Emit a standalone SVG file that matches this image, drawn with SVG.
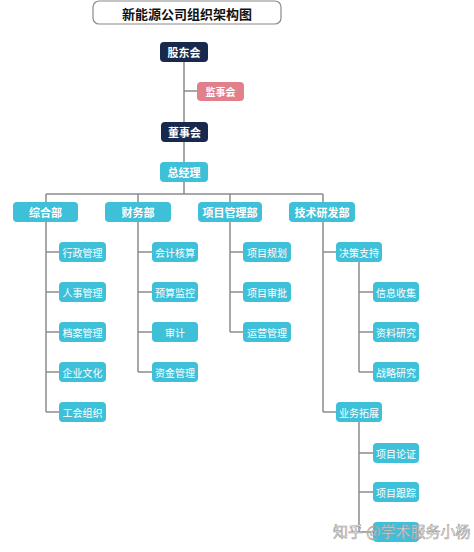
<svg xmlns="http://www.w3.org/2000/svg" width="474" height="552" viewBox="0 0 474 552">
<style>
.t{font-family:"Noto Sans CJK SC","Noto Sans",sans-serif;fill:#fff;text-anchor:middle;dominant-baseline:central}
.c rect{fill:#3fc0d9}
.leaf text{font-size:10px}
.dept text{font-size:11px;font-weight:bold}
.top rect{fill:#172a4d}
.top text{font-size:11px;font-weight:bold}
.ln{stroke:#8c8c8c;stroke-width:1.5;fill:none}
</style>
<rect width="474" height="552" fill="#fff"/>
<g id="title">
<rect x="93" y="1" width="188" height="23" rx="6" fill="#fff" stroke="#8a8a8a" stroke-width="1.2"/>
<text x="187" y="13" font-family="'Noto Sans CJK SC',sans-serif" font-size="13" font-weight="bold" fill="#111" text-anchor="middle" dominant-baseline="central">新能源公司组织架构图</text>
</g>
<g id="connectors" class="ln">
<path d="M184 62V162M184 91H197"/>
<path d="M184 182V194M46 194H323M46 194V202M138 194V202M230 194V202M323 194V202"/>
<path d="M46 222V412M46 252H59M46 292H59M46 332H59M46 372H59M46 412H59"/>
<path d="M138 222V372M138 252H152M138 292H152M138 332H152M138 372H152"/>
<path d="M230 222V332M230 252H243M230 292H243M230 332H243"/>
<path d="M323 222V412M323 252H336M323 412H336"/>
<path d="M359 262V372M359 292H373M359 332H373M359 372H373"/>
<path d="M359 422V532M359 453H373M359 492H373M359 532H373"/>
</g>
<g id="gudonghui" class="top"><rect x="160" y="42" width="48" height="20" rx="4"/><text class="t" x="184" y="52">股东会</text></g>
<g id="jianshihui"><rect x="197" y="82" width="47" height="19" rx="4" fill="#e17f8b"/><text class="t" x="220.5" y="91.5" font-size="10" font-weight="bold">监事会</text></g>
<g id="dongshihui" class="top"><rect x="161" y="122" width="47" height="20" rx="4"/><text class="t" x="184.5" y="132">董事会</text></g>
<g id="zongjingli" class="c dept"><rect x="160" y="162" width="48" height="20" rx="4"/><text class="t" x="184" y="172">总经理</text></g>
<g id="zonghebu" class="c dept"><rect x="13" y="202" width="65" height="20" rx="4"/><text class="t" x="45.5" y="212">综合部</text></g>
<g id="caiwubu" class="c dept"><rect x="105" y="202" width="66" height="20" rx="4"/><text class="t" x="138" y="212">财务部</text></g>
<g id="xiangmuguanlibu" class="c dept"><rect x="198" y="202" width="64" height="20" rx="4"/><text class="t" x="230" y="212">项目管理部</text></g>
<g id="jishuyanfabu" class="c dept"><rect x="289" y="202" width="66" height="20" rx="4"/><text class="t" x="322" y="212">技术研发部</text></g>
<g id="xingzheng" class="c leaf"><rect x="59" y="242" width="47" height="20" rx="4"/><text class="t" x="82.5" y="252">行政管理</text></g>
<g id="renshi" class="c leaf"><rect x="59" y="282" width="47" height="20" rx="4"/><text class="t" x="82.5" y="292">人事管理</text></g>
<g id="dangan" class="c leaf"><rect x="59" y="322" width="47" height="20" rx="4"/><text class="t" x="82.5" y="332">档案管理</text></g>
<g id="qiye" class="c leaf"><rect x="59" y="362" width="47" height="20" rx="4"/><text class="t" x="82.5" y="372">企业文化</text></g>
<g id="gonghui" class="c leaf"><rect x="59" y="402" width="47" height="20" rx="4"/><text class="t" x="82.5" y="412">工会组织</text></g>
<g id="kuaiji" class="c leaf"><rect x="152" y="242" width="46" height="20" rx="4"/><text class="t" x="175" y="252">会计核算</text></g>
<g id="yusuan" class="c leaf"><rect x="152" y="282" width="46" height="20" rx="4"/><text class="t" x="175" y="292">预算监控</text></g>
<g id="shenji" class="c leaf"><rect x="152" y="322" width="46" height="20" rx="4"/><text class="t" x="175" y="332">审计</text></g>
<g id="zijin" class="c leaf"><rect x="152" y="362" width="46" height="20" rx="4"/><text class="t" x="175" y="372">资金管理</text></g>
<g id="guihua" class="c leaf"><rect x="243" y="242" width="48" height="20" rx="4"/><text class="t" x="267" y="252">项目规划</text></g>
<g id="shenpi" class="c leaf"><rect x="243" y="282" width="48" height="20" rx="4"/><text class="t" x="267" y="292">项目审批</text></g>
<g id="yunying" class="c leaf"><rect x="243" y="322" width="48" height="20" rx="4"/><text class="t" x="267" y="332">运营管理</text></g>
<g id="juece" class="c leaf"><rect x="336" y="242" width="46" height="20" rx="4"/><text class="t" x="359" y="252">决策支持</text></g>
<g id="yewu" class="c leaf"><rect x="336" y="402" width="46" height="20" rx="4"/><text class="t" x="359" y="412">业务拓展</text></g>
<g id="xinxi" class="c leaf"><rect x="373" y="282" width="46" height="20" rx="4"/><text class="t" x="396" y="292">信息收集</text></g>
<g id="ziliao" class="c leaf"><rect x="373" y="322" width="46" height="20" rx="4"/><text class="t" x="396" y="332">资料研究</text></g>
<g id="zhanlue" class="c leaf"><rect x="373" y="362" width="46" height="20" rx="4"/><text class="t" x="396" y="372">战略研究</text></g>
<g id="lunzheng" class="c leaf"><rect x="373" y="443" width="46" height="20" rx="4"/><text class="t" x="396" y="453">项目论证</text></g>
<g id="genzong" class="c leaf"><rect x="373" y="482" width="46" height="20" rx="4"/><text class="t" x="396" y="492">项目跟踪</text></g>
<g id="hidden" class="c leaf"><rect x="373" y="522" width="46" height="20" rx="4"/></g>
<text x="333" y="537" font-family="'Noto Sans CJK SC',sans-serif" font-size="15" fill="#ffffff" fill-opacity="0.85" stroke="#9a9a9a" stroke-width="0.6">知乎 @学术服务小杨</text>
</svg>
